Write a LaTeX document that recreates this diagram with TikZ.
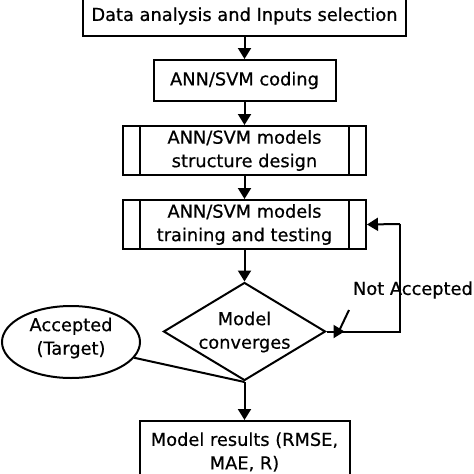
\documentclass[tikz,border=0pt]{standalone}
\usepackage{fontspec}
\setmainfont[FakeBold=0.6,AutoFakeBold=0.6]{DejaVu Sans}
\usetikzlibrary{arrows.meta,shapes.geometric,calc}
\begin{document}
\begin{tikzpicture}[x=1pt,y=-1pt,
  lw/.style={line width=2pt},
  tip/.style={-{Triangle[length=11pt,width=13pt]}},
  box/.style={draw,lw,inner sep=0pt,align=center,font=\fontsize{17.8}{23.5}\selectfont},
  txt/.style={align=center,font=\fontsize{17.8}{23.5}\selectfont}]
\useasboundingbox (0,0) rectangle (474,474);
\fill[white] (0,0) rectangle (474,474);
% boxes
\node[box,minimum width=323pt,minimum height=44pt] (b1) at (244.5,13.5) {};
\node[txt] at (244.5,16) {Data analysis and Inputs selection};
\node[box,minimum width=182pt,minimum height=41pt] (b2) at (244.5,80.5) {ANN/SVM coding};
\node[box,minimum width=243pt,minimum height=49pt] (b3) at (244.5,150.5) {ANN/SVM models\\structure design};
\draw[lw] (140,126) -- (140,175) (349,126) -- (349,175);
\node[box,minimum width=243pt,minimum height=49pt] (b4) at (244.5,224.5) {ANN/SVM models\\training and testing};
\draw[lw] (140,200) -- (140,249) (349,200) -- (349,249);
\node[draw,lw,diamond,aspect=1.653,minimum width=162pt,minimum height=98pt,inner sep=0pt] (d) at (244.5,331.5) {};
\node[txt] at (244.5,332) {Model\\converges};
\node[draw,lw,ellipse,minimum width=138pt,minimum height=72pt,inner sep=0pt] (e) at (71,342) {};
\node[txt] at (71,338) {Accepted\\(Target)};
\node[box,minimum width=210pt,minimum height=70pt] (b5) at (244.5,456) {};
\node[txt] at (244.5,452) {Model results (RMSE,\\MAE, R)};
\node[txt,anchor=east,inner sep=0pt] (na) at (473,290) {Not Accepted};
\coordinate (j) at (244.5,382);
\coordinate (c1) at (400,331.5);
\coordinate (c2) at (400,224);
% connectors
\draw[lw,tip] (b1.south) -- (b2.north);
\draw[lw,tip] (b2.south) -- (b3.north);
\draw[lw,tip] (b3.south) -- (b4.north);
\draw[lw,tip] (b4.south) -- (d.north);
\draw[lw] (e.-14) -- (j);
\draw[lw,tip] (j) -- (b5.north);
\draw[lw] (d.east) -- (c1) -- (c2);
\draw[lw,tip] (c2) -- (b4.east);
\draw[lw,tip] (d.east) -- ++(18,0);
\draw[lw] (349,310) -- (339,331);
\end{tikzpicture}
\end{document}
